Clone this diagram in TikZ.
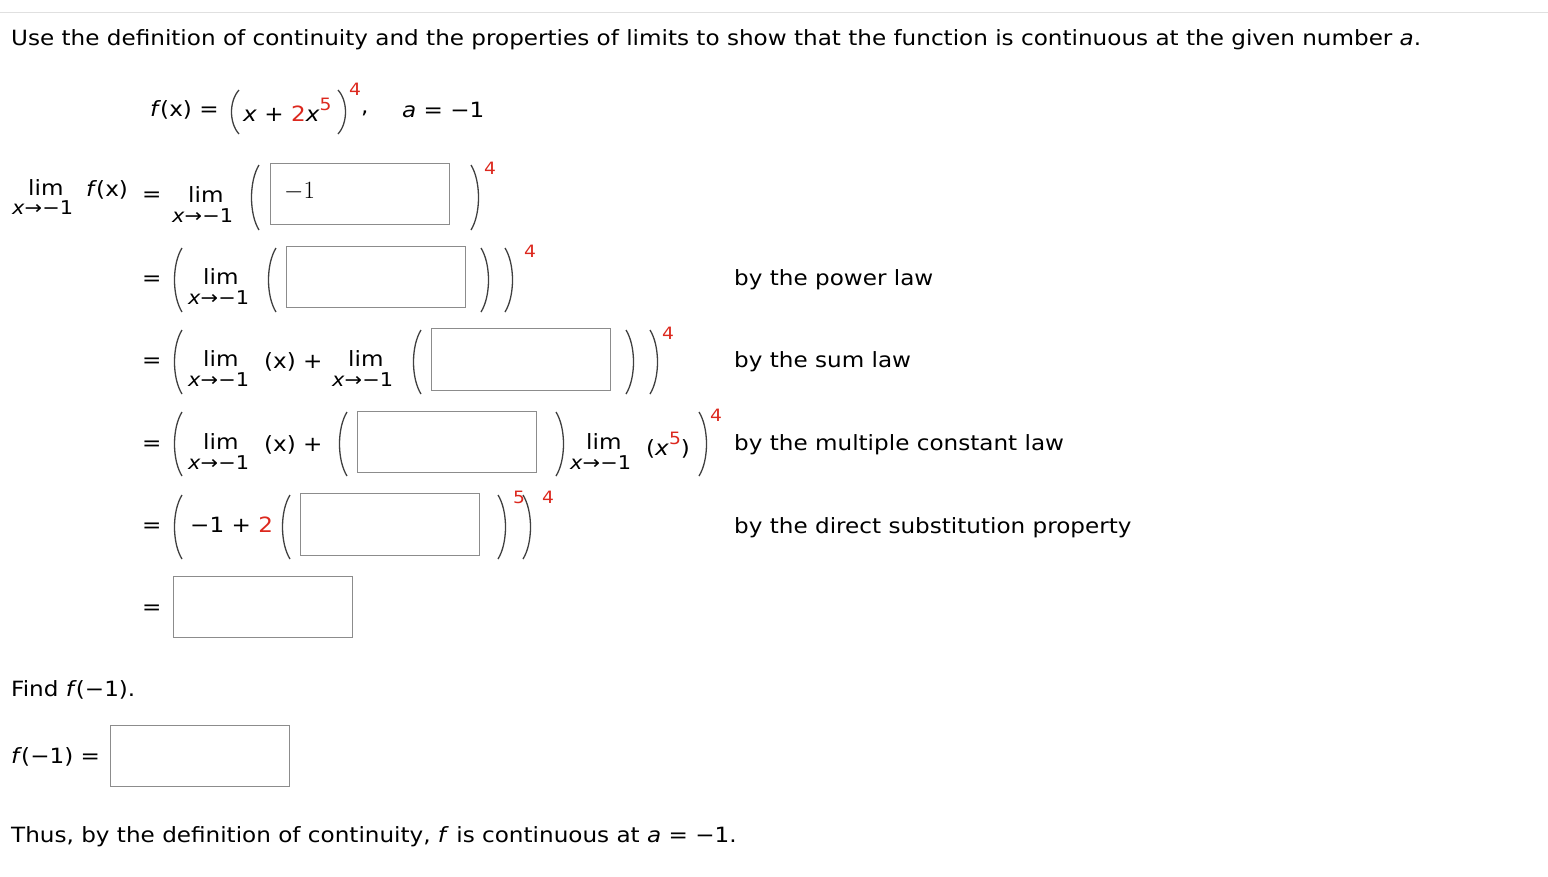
\documentclass[tikz,border=0pt]{standalone}
\usepackage{fontspec}
\setmainfont[FakeStretch=1.1]{DejaVu Sans}
\definecolor{ansred}{RGB}{220,40,30}
\newcommand\lpa[3]{\draw[paren] ({#1+5},{#2}) .. controls ({#1-5},{#2+(#3-#2)/4}) and ({#1-5},{#3-(#3-#2)/4}) .. ({#1+5},{#3});}
\newcommand\rpa[3]{\draw[paren] ({#1-5},{#2}) .. controls ({#1+5},{#2+(#3-#2)/4}) and ({#1+5},{#3-(#3-#2)/4}) .. ({#1-5},{#3});}
\newcommand\supr[1]{\raisebox{0.55em}{\fontsize{17}{20}\selectfont\textcolor{ansred}{#1}}}
\begin{document}
\begin{tikzpicture}[x=1pt,y=-1pt,
  every node/.style={inner sep=0pt,anchor=west,font=\fontsize{21}{25}\selectfont},
  sub/.style={font=\fontsize{19}{22}\selectfont},
  sup/.style={font=\fontsize{17}{20}\selectfont,text=ansred},
  ansbox/.style={draw=black!45,line width=0.8pt},
  paren/.style={line width=1.3pt,black!75}]
\useasboundingbox (0,0) rectangle (1548,876);
\draw[black!12] (0,12) -- (1548,12);
\node (q) at (11,40) {Use the definition of continuity and the properties of limits to show that the function is continuous at the given number \textit{a}.};
% f(x)
\node (fx) at (150,110) {\textit{f}\kern-1pt(x) =};
\lpa{234}{90}{134}
\node (fin) at (243,110) {\textit{x} + \textcolor{ansred}{2}\textit{x}\supr{5}};
\rpa{343}{90}{134}
\node[sup] (f4) at (349,89) {4};
\node (fc) at (361,113) {,};
\node (fa) at (402,110) {\textit{a} = −1};
% row1
\node (l0) at (28,188) {lim};
\node[sub] (s0) at (12,208) {\textit{x}→−1};
\node (f0) at (86,190) {\textit{f}\kern-1pt(x)};
\node (e1) at (142,197) {=};
\node (l1) at (188,195) {lim};
\node[sub] (s1) at (172,216) {\textit{x}→−1};
\lpa{254}{165}{230}
\draw[ansbox] (270,163) rectangle (449,224);
\node[font=\fontsize{34}{38}\selectfont] (b1) at (284,192) {$-1$};
\rpa{476}{165}{230}
\node[sup] (p1) at (484,168) {4};
% row2
\node (e2) at (142,281) {=};
\lpa{177}{248}{312}
\node (l2) at (203,277) {lim};
\node[sub] (s2) at (188,298) {\textit{x}→−1};
\lpa{271}{248}{312}
\draw[ansbox] (286,246) rectangle (465,307);
\rpa{486}{248}{312}\rpa{510}{248}{312}
\node[sup] (p2) at (524,251) {4};
\node (t2) at (734,280) {by the power law};
% row3
\node (e3) at (142,363) {=};
\lpa{177}{330}{394}
\node (l3) at (203,359) {lim};
\node[sub] (s3) at (188,380) {\textit{x}→−1};
\node (x3) at (264,362) {(x) +};
\node (l3b) at (348,359) {lim};
\node[sub] (s3b) at (332,380) {\textit{x}→−1};
\lpa{416}{330}{394}
\draw[ansbox] (431,328) rectangle (610,390);
\rpa{631}{330}{394}\rpa{655}{330}{394}
\node[sup] (p3) at (662,333) {4};
\node (t3) at (734,362) {by the sum law};
% row4
\node (e4) at (142,446) {=};
\lpa{177}{412}{476}
\node (l4) at (203,442) {lim};
\node[sub] (s4) at (188,463) {\textit{x}→−1};
\node (x4) at (264,445) {(x) +};
\lpa{342}{412}{476}
\draw[ansbox] (357,411) rectangle (536,472);
\rpa{561}{412}{476}
\node (l4b) at (586,442) {lim};
\node[sub] (s4b) at (570,463) {\textit{x}→−1};
\node (x45) at (646,445) {(\textit{x}\supr{5})};
\rpa{704}{412}{476}
\node[sup] (p4) at (710,415) {4};
\node (t4) at (734,445) {by the multiple constant law};
% row5
\node (e5) at (142,528) {=};
\lpa{177}{495}{559}
\node (m5) at (190,525) {−1 + \textcolor{ansred}{2}};
\lpa{285}{495}{559}
\draw[ansbox] (300,493) rectangle (479,555);
\rpa{503}{495}{559}
\node[sup] (q5) at (513,497) {5};
\rpa{528}{495}{559}
\node[sup] (p5) at (542,497) {4};
\node (t5) at (734,528) {by the direct substitution property};
% row6
\node (e6) at (142,610) {=};
\draw[ansbox] (173,576) rectangle (352,637);
% find
\node (fd) at (11,690) {Find \textit{f}\kern-1pt(−1).};
\node (fe) at (11,757) {\textit{f}\kern-1pt(−1) =};
\draw[ansbox] (110,725) rectangle (289,786);
\node (th) at (11,837) {Thus, by the definition of continuity, \textit{f} is continuous at \textit{a} = −1.};
\end{tikzpicture}
\end{document}
